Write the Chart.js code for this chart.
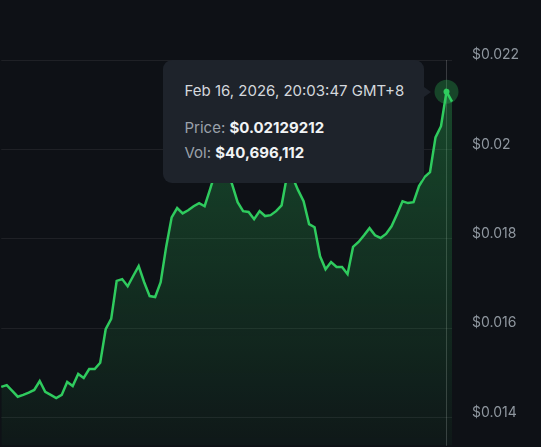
<!DOCTYPE html>
<html>
<head>
<meta charset="utf-8">
<script src="https://cdn.jsdelivr.net/npm/chart.js@4.4.1/dist/chart.umd.min.js"></script>
<style>
  html, body { margin: 0; padding: 0; background: #0e1116; }
  #wrap { position: relative; width: 541px; height: 447px; overflow: hidden; }
  #tip {
    position: absolute; display: none; background: #1e232b; border-radius: 9px;
    padding: 21px 20px 18px 21px; font-family: Inter, sans-serif; font-size: 15px;
    white-space: nowrap; color: #d4d8dd;
  }
  #tip .t { line-height: 20px; margin-bottom: 14px; }
  #tip .r { line-height: 25px; color: #9aa1aa; }
  #tip .r b { color: #f1f3f5; font-weight: 700; }
  #tip .caret {
    position: absolute; right: -7px; width: 0; height: 0;
    border-top: 5px solid transparent; border-bottom: 5px solid transparent;
    border-left: 7px solid #1e232b;
  }
</style>
</head>
<body>
<div id="wrap">
  <canvas id="chart" width="541" height="447"></canvas>
  <div id="tip"></div>
</div>
<script>
// price series (points under the tooltip are guesses)
const prices = [
  0.01469, 0.01473, 0.01460, 0.01447, 0.01451, 0.01456, 0.01462, 0.01482, 0.01458, 0.01451,
  0.01444, 0.01451, 0.01480, 0.01471, 0.01498, 0.01489, 0.01509, 0.01509, 0.01523, 0.01598,
  0.01621, 0.01706, 0.01710, 0.01694, 0.01717, 0.01739, 0.01703, 0.01672, 0.01670, 0.01703,
  0.01782, 0.01848, 0.01869, 0.01857, 0.01864, 0.01873, 0.01880, 0.01873, 0.01911, 0.01951,
  0.01967, 0.01951, 0.01922, 0.01882, 0.01862, 0.01860, 0.01844, 0.01862, 0.01851, 0.01853,
  0.01862, 0.01875, 0.01942, 0.01938, 0.01909, 0.01884, 0.01833, 0.01826, 0.01761, 0.01732,
  0.01748, 0.01737, 0.01737, 0.01721, 0.01782, 0.01793, 0.01808, 0.01824, 0.01808, 0.01802,
  0.01811, 0.01828, 0.01855, 0.01884, 0.01880, 0.01882, 0.01918, 0.01938, 0.01949, 0.02027,
  0.02052, 0.02129212, 0.02107
];
const labels = prices.map((_, i) => i);
const yTicks = [0.014, 0.016, 0.018, 0.02, 0.022];
const yMin = 0.013373;
const yMax = 0.022;

const hoverIndex = 81;
const hoverTime = 'Feb 16, 2026, 20:03:47 GMT+8';
const hoverVol = 40696112;

const lineColor = '#2fcb5e';

const hoverMark = {
  id: 'hoverMark',
  beforeDatasetsDraw(chart) {
    const pt = chart.getDatasetMeta(0).data[hoverIndex];
    const { ctx, chartArea } = chart;
    const x = Math.round(pt.x) - 0.5;
    ctx.save();
    ctx.strokeStyle = 'rgba(255,255,255,0.18)';
    ctx.lineWidth = 1;
    ctx.beginPath();
    ctx.moveTo(x, chartArea.top);
    ctx.lineTo(x, chartArea.bottom);
    ctx.stroke();
    ctx.fillStyle = 'rgba(47,203,94,0.28)';
    ctx.beginPath();
    ctx.arc(pt.x, pt.y, 12, 0, Math.PI * 2);
    ctx.fill();
    ctx.restore();
  },
  afterDatasetsDraw(chart) {
    const pt = chart.getDatasetMeta(0).data[hoverIndex];
    const ctx = chart.ctx;
    ctx.save();
    ctx.fillStyle = lineColor;
    ctx.beginPath();
    ctx.arc(pt.x, pt.y, 3, 0, Math.PI * 2);
    ctx.fill();
    ctx.restore();
  }
};

function renderTip({ tooltip }) {
  const el = document.getElementById('tip');
  if (tooltip.opacity === 0 || !tooltip.dataPoints) { el.style.display = 'none'; return; }
  const i = tooltip.dataPoints[0].dataIndex;
  el.innerHTML = `
    <div class="t">${hoverTime}</div>
    <div class="r">Price: <b>$${prices[i].toFixed(8)}</b></div>
    <div class="r">Vol: <b>$${hoverVol.toLocaleString('en-US')}</b></div>
    <div class="caret"></div>`;
  el.style.display = 'block';
  const top = tooltip.caretY - 32;
  el.style.left = (tooltip.caretX - 22 - el.offsetWidth) + 'px';
  el.style.top = top + 'px';
  el.querySelector('.caret').style.top = (tooltip.caretY - top - 5) + 'px';
}

const chart = new Chart(document.getElementById('chart'), {
  type: 'line',
  data: {
    labels: labels,
    datasets: [{
      data: prices,
      borderColor: lineColor,
      borderWidth: 2.5,
      pointRadius: 0,
      pointHoverRadius: 0,
      tension: 0,
      fill: 'start',
      backgroundColor: (c) => {
        const area = c.chart.chartArea;
        if (!area) return 'rgba(47,203,94,0.15)';
        const g = c.chart.ctx.createLinearGradient(0, area.top, 0, area.bottom);
        g.addColorStop(0, 'rgba(47,203,94,0.32)');
        g.addColorStop(1, 'rgba(47,203,94,0.04)');
        return g;
      }
    }]
  },
  options: {
    responsive: false,
    animation: false,
    events: [],
    layout: { padding: { top: 60, left: -3, right: 0, bottom: 0 } },
    plugins: {
      legend: { display: false },
      tooltip: { enabled: false, external: renderTip }
    },
    scales: {
      x: { display: false },
      y: {
        position: 'right',
        min: yMin,
        max: yMax,
        afterBuildTicks: (s) => { s.ticks = yTicks.map(v => ({ value: v })); },
        afterFit: (s) => {
          s.width = 89;
          s.paddingTop = 0;
          s.paddingBottom = 0;
        },
        border: { display: false },
        grid: { color: 'rgba(255,255,255,0.07)', drawTicks: false },
        ticks: {
          color: '#8f979f',
          padding: 20,
          labelOffset: -5,
          font: { family: 'Inter', size: 14 },
          callback: (v) => '$' + Number(v.toFixed(3))
        }
      }
    }
  },
  plugins: [hoverMark]
});

chart.setActiveElements([{ datasetIndex: 0, index: hoverIndex }]);
chart.tooltip.setActiveElements([{ datasetIndex: 0, index: hoverIndex }], { x: 0, y: 0 });
chart.update();
</script>
</body>
</html>
